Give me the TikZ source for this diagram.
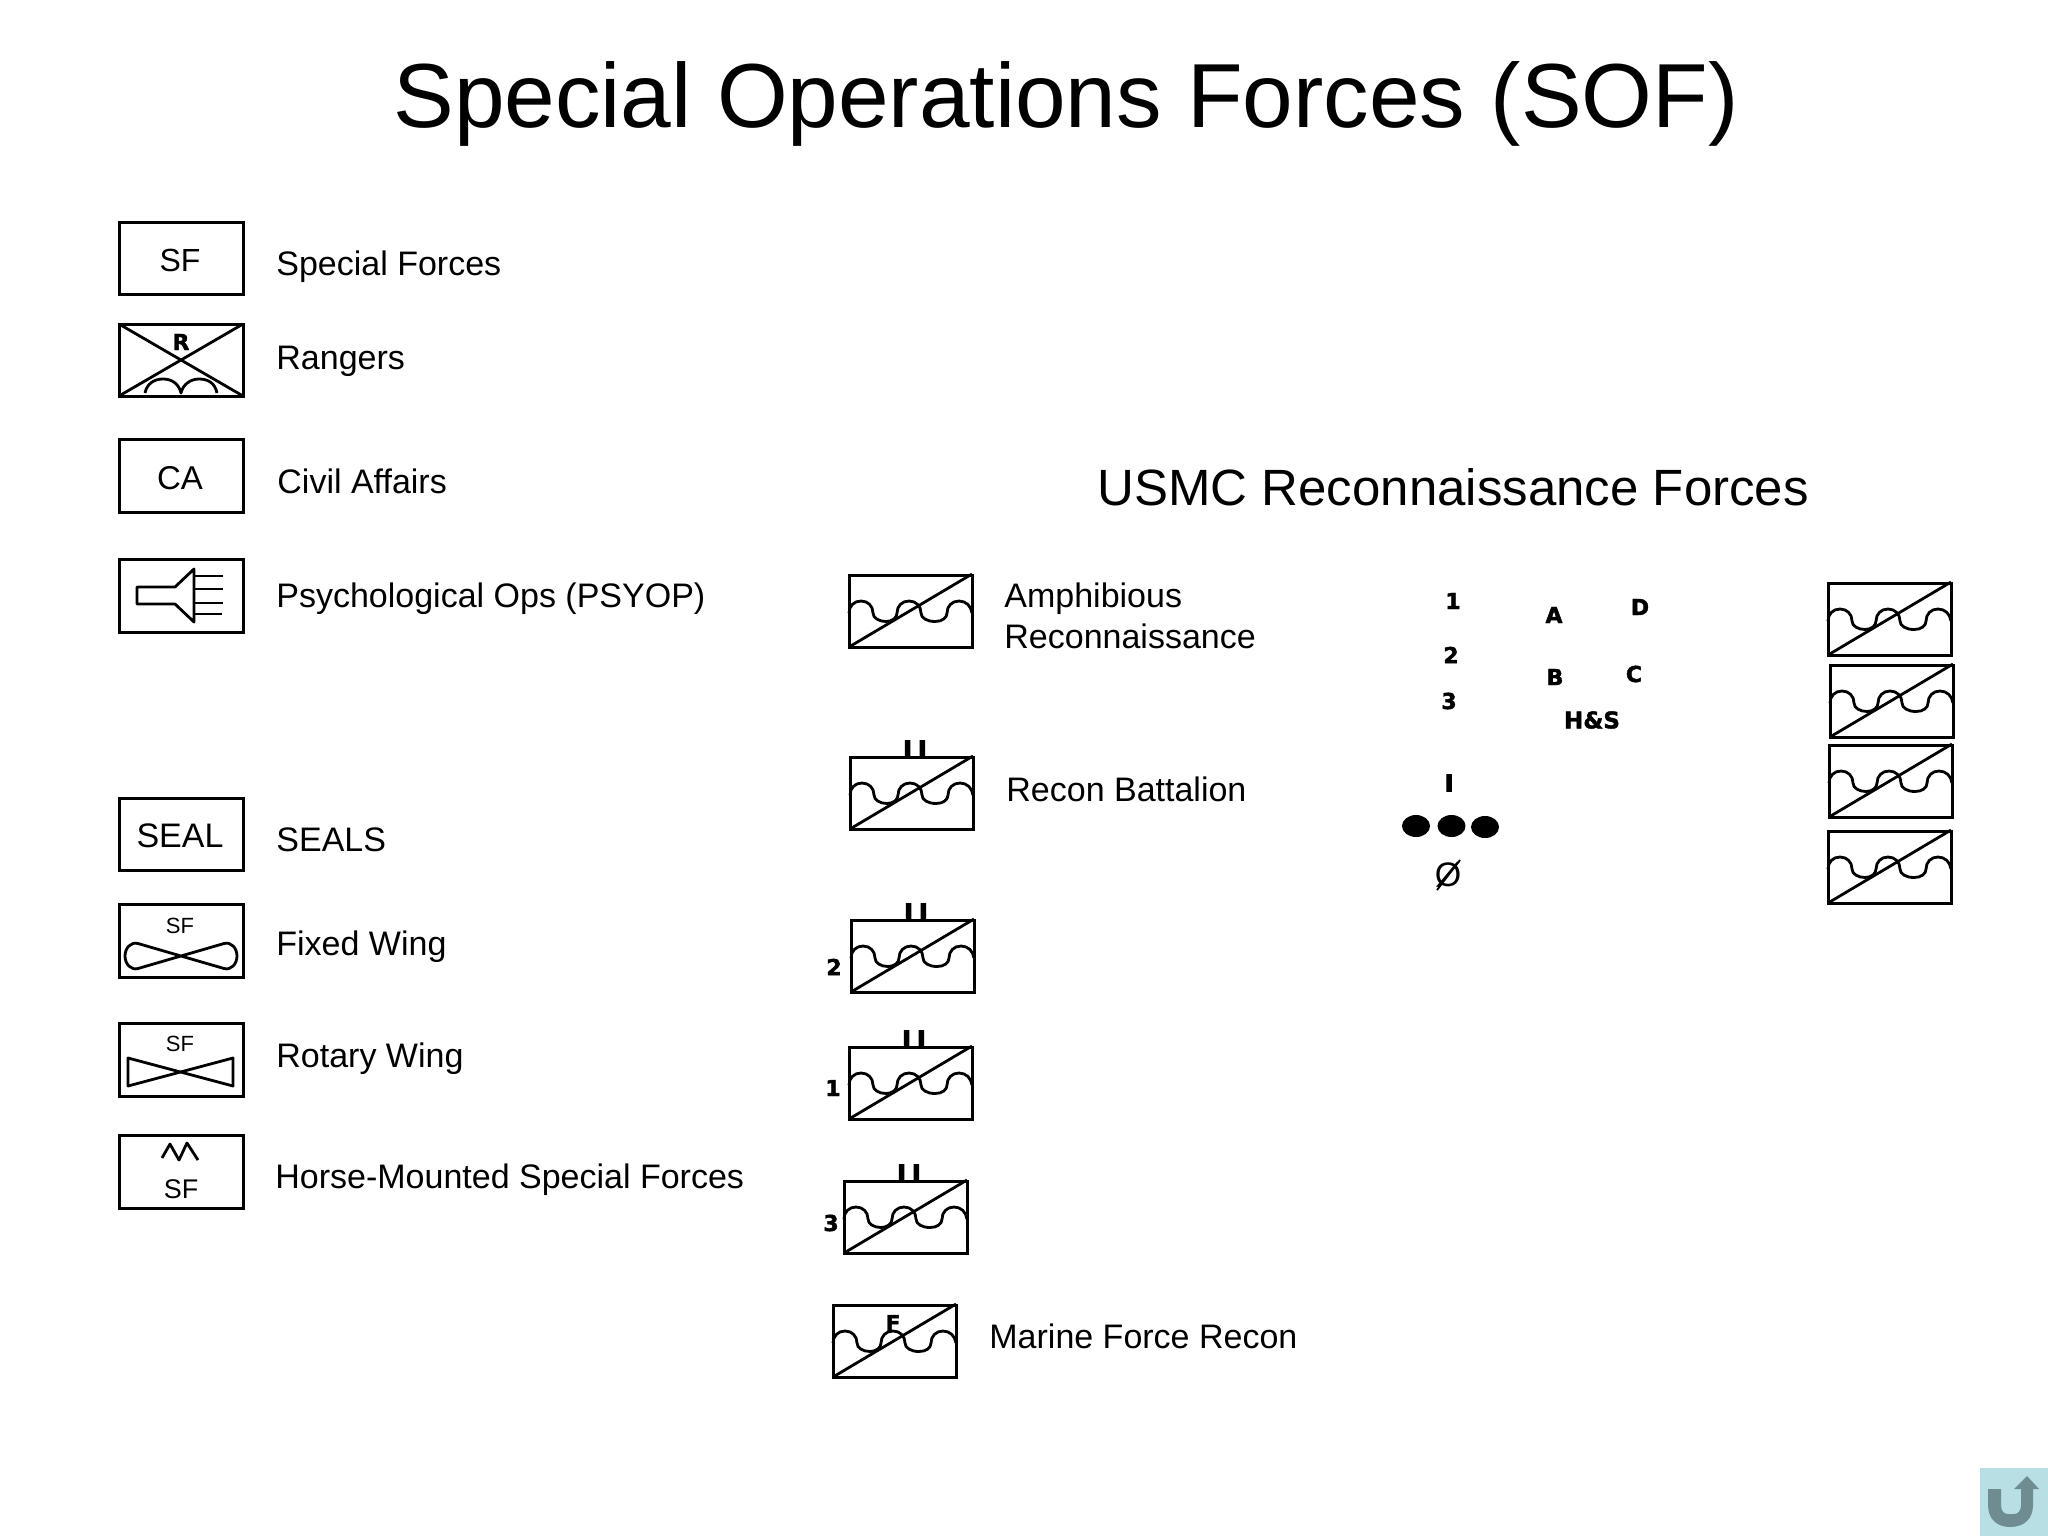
\documentclass[tikz,border=0pt]{standalone}
\usepackage{fontspec}
\setmainfont{Liberation Sans}
\newfontfamily\heavyf[BoldFeatures={FakeBold=1.8}]{DejaVu Sans}
\newfontfamily\barf[BoldFeatures={FakeBold=5}]{DejaVu Sans}
\newcommand{\fsz}[1]{\fontsize{#1}{#1}\selectfont}
\definecolor{tile}{HTML}{B8E0E4}
\definecolor{uarrow}{HTML}{6F8C90}
\tikzset{
  lbl/.style={inner sep=0pt,anchor=base west,font=\fsz{17}},
  ctxt/.style={inner sep=0pt,anchor=center},
  heavy/.style={inner sep=0pt,anchor=center,font=\heavyf\bfseries\fsz{#1}},
  heavy/.default=11,
  barmark/.style={inner sep=0pt,anchor=center,font=\barf\bfseries\fsz{11.5}},
  unitline/.style={draw=black,line width=1.5pt},
  sym/.style={draw=black,line width=1.4pt,line join=round},
  pics/reconbox/.style={code={
    \draw[unitline] (0,0) rectangle (123,72);
    \draw[sym] (0,38) .. controls (0,31) and (5,26) .. (12,26) .. controls (19,26) and (24,31) .. (24,38)
      .. controls (24,43) and (30,46.5) .. (37,46.5) .. controls (43,46.5) and (48,43) .. (48,38)
      .. controls (48,31) and (53,26) .. (60,26) .. controls (67,26) and (72,31) .. (72,38)
      .. controls (72,43) and (78,46.5) .. (86,46.5) .. controls (93,46.5) and (98,43) .. (98,38)
      .. controls (98,31) and (103,26) .. (110,26) .. controls (117,26) and (122,31) .. (123,38);
    \draw[sym] (0,72) -- (123,-1);
  }},
}
\begin{document}
\begin{tikzpicture}[x=0.5pt,y=-0.5pt]
\useasboundingbox (0,0) rectangle (2048,1536);
\fill[white] (0,0) rectangle (2048,1536);
% titles
\node[lbl,font=\fsz{45.5}] (title) at (393,127) {Special Operations Forces (SOF)};
\node[lbl,font=\fsz{25.5}] (usmc) at (1097,505) {USMC Reconnaissance Forces};
% left column boxes
\draw[unitline] (119,222) rectangle (243,294);
\node[ctxt,font=\fsz{16}] (sf) at (180,260) {SF};
\node[lbl] (lsf) at (276,275) {Special Forces};

\draw[unitline] (119,324) rectangle (243,396);
\draw[sym] (119,324) -- (243,396) (119,396) -- (243,324);
\draw[sym] (145,393) .. controls (147,383) and (155,379) .. (163,379) .. controls (172,379) and (179,384) .. (181,393)
   .. controls (183,384) and (191,379) .. (199,379) .. controls (208,379) and (215,383) .. (217,393);
\node[heavy=11] (rr) at (181,342) {R};
\node[lbl] (lr) at (276,369) {Rangers};

\draw[unitline] (119,439) rectangle (243,512);
\node[ctxt,font=\fsz{16.5}] (ca) at (180,478) {CA};
\node[lbl] (lca) at (277,493) {Civil Affairs};

\draw[unitline] (119,559) rectangle (243,632);
\draw[sym] (137,587) -- (175,587) -- (194,569) -- (194,622) -- (175,604) -- (137,604) -- cycle;
\draw[sym] (194,576) -- (223,576) (194,589) -- (223,589) (194,603) -- (223,603) (194,614) -- (222,614);
\node[lbl] (lpsy) at (276,607) {Psychological Ops (PSYOP)};

\draw[unitline] (119,798) rectangle (243,870);
\node[ctxt,font=\fsz{17}] (seal) at (180,836) {SEAL};
\node[lbl] (lseal) at (276,851) {SEALS};

\draw[unitline] (119,904) rectangle (243,977);
\node[ctxt,font=\fsz{11}] (sf2) at (180,926) {SF};
\draw[sym] (181,956) -- (138,943.5) .. controls (131,941.5) and (125,948) .. (125,956) .. controls (125,964) and (131,970.5) .. (138,968.5)
  -- (181,956) -- (224,943.5) .. controls (231,941.5) and (237,948) .. (237,956) .. controls (237,964) and (231,970.5) .. (224,968.5) -- cycle;
\node[lbl] (lfix) at (276,955) {Fixed Wing};

\draw[unitline] (119,1023) rectangle (243,1096);
\node[ctxt,font=\fsz{11}] (sf3) at (180,1044) {SF};
\draw[sym] (128,1058) -- (233,1086) -- (233,1058) -- (128,1086) -- cycle;
\node[lbl] (lrot) at (276,1067) {Rotary Wing};

\draw[unitline] (119,1135) rectangle (243,1208);
\draw[sym] (162,1158) -- (170,1144) -- (179,1160) -- (187,1143) -- (198,1160);
\node[ctxt,font=\fsz{13.5}] (sf4) at (181,1189) {SF};
\node[lbl] (lhor) at (275,1188) {Horse-Mounted Special Forces};

% recon column
\pic at (849,575) {reconbox};
\node[lbl] (lam1) at (1004,607) {Amphibious};
\node[lbl] (lam2) at (1004,648) {Reconnaissance};

\pic at (850,757) {reconbox};
\node[barmark] (b1) at (915,749) {I\kern3pt I};
\node[lbl] (lbn) at (1006,801) {Recon Battalion};

\pic at (851,920) {reconbox};
\node[barmark] (b2) at (916,912) {I\kern3pt I};
\node[heavy=11] (n2) at (834,967) {2};

\pic at (849,1047) {reconbox};
\node[barmark] (b3) at (914,1039) {I\kern3pt I};
\node[heavy=11] (n1) at (833,1088) {1};

\pic at (844,1181) {reconbox};
\node[barmark] (b4) at (909,1173) {I\kern3pt I};
\node[heavy=11] (n3) at (831,1223) {3};

\pic at (833,1305) {reconbox};
\node[heavy=11] (ff) at (893,1323) {F};
\node[lbl] (lfr) at (989,1348) {Marine Force Recon};

% middle legend
\node[heavy=11] (m1) at (1453,601) {1};
\node[heavy=11] (m2) at (1451,655) {2};
\node[heavy=11] (m3) at (1449,701) {3};
\node[heavy=11] (ma) at (1554,615) {A};
\node[heavy=11] (md) at (1640,607) {D};
\node[heavy=11] (mb) at (1555,677) {B};
\node[heavy=11] (mc) at (1634,674) {C};
\node[heavy=11.5] (mh) at (1592,720) {H\&S};
\node[barmark] (mi) at (1449,783) {I};
\fill[black] (1416,826) ellipse [x radius=14,y radius=11];
\fill[black] (1451.5,826) ellipse [x radius=14,y radius=11];
\fill[black] (1485,827) ellipse [x radius=14,y radius=11];
\node[ctxt,font=\fsz{17}] (oo) at (1448,875) {Ø};
\draw[line width=0.9pt] (1460,860) -- (1437,890);

% right column
\pic at (1828,583) {reconbox};
\pic at (1830,665) {reconbox};
\pic at (1829,745) {reconbox};
\pic at (1828,831) {reconbox};

% return icon
\fill[tile] (1980,1468) rectangle (2048,1536);
\fill[uarrow] (1988,1489) -- (2001,1489) -- (2001,1505) .. controls (2001,1511) and (2004,1514) .. (2008,1514)
  -- (2014,1514) .. controls (2018,1514) and (2021,1511) .. (2021,1505) -- (2021,1489) -- (2014,1489) -- (2027,1476)
  -- (2039,1489) -- (2033,1489) -- (2033,1505) .. controls (2033,1519) and (2024,1527) .. (2010,1527)
  .. controls (1997,1527) and (1988,1519) .. (1988,1505) -- cycle;
\end{tikzpicture}
\end{document}
